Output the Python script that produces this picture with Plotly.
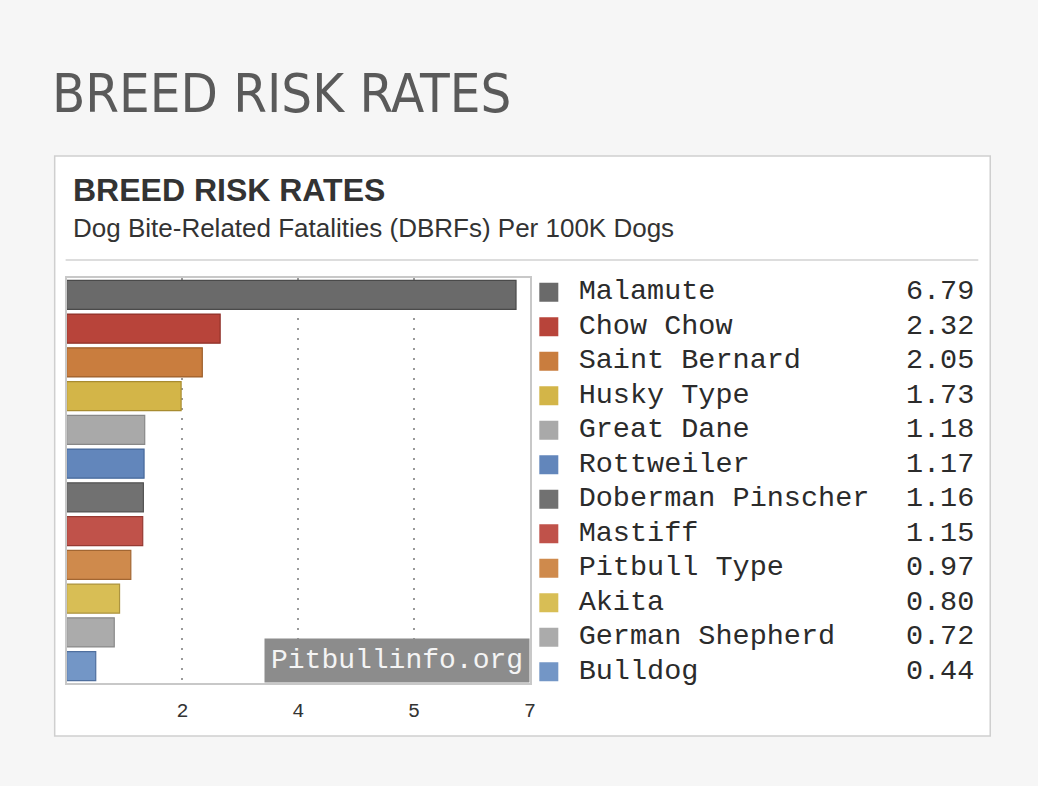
import plotly.graph_objects as go

# data
breeds = ['Malamute', 'Chow Chow', 'Saint Bernard', 'Husky Type', 'Great Dane', 'Rottweiler',
          'Doberman Pinscher', 'Mastiff', 'Pitbull Type', 'Akita', 'German Shepherd', 'Bulldog']
rates = [6.79, 2.32, 2.05, 1.73, 1.18, 1.17, 1.16, 1.15, 0.97, 0.80, 0.72, 0.44]
tick_vals = [1.75, 3.5, 5.25, 7]
tick_text = ['2', '4', '5', '7']

colors = ['#6a6a6a', '#b8443a', '#c97d3e', '#d3b548', '#a9a9a9', '#6286bb',
          '#717171', '#c0524a', '#cf8a4c', '#d8be55', '#ababab', '#7396c6']
edges = ['#4a4a4a', '#8e3029', '#9c5e2a', '#a88c30', '#888888', '#46689a',
         '#555555', '#963a33', '#a26632', '#ac9440', '#8a8a8a', '#4f6f9e']

W, H = 1038, 786
MONO = 'Liberation Mono, Courier New, monospace'


def px_x(v):
    return v / W


def px_y(v):
    return 1 - v / H


fig = go.Figure()

fig.add_trace(go.Bar(
    x=rates, y=breeds, orientation='h',
    marker=dict(color=colors, line=dict(color=edges, width=1.2)),
    showlegend=False, hoverinfo='x+y',
))

# legend column: swatch, name, value
fig.add_trace(go.Scatter(
    x=[12] * len(breeds), y=breeds, mode='markers',
    marker=dict(symbol='square', size=19, color=colors),
    xaxis='x2', yaxis='y2', showlegend=False, hoverinfo='skip',
))
fig.add_trace(go.Scatter(
    x=[42] * len(breeds), y=breeds, mode='text',
    text=breeds, textposition='middle right',
    textfont=dict(family=MONO, size=28.5, color='#2b2b2b'),
    xaxis='x2', yaxis='y2', showlegend=False, hoverinfo='skip',
))
fig.add_trace(go.Scatter(
    x=[440] * len(breeds), y=breeds, mode='text',
    text=['%.2f' % r for r in rates], textposition='middle left',
    textfont=dict(family=MONO, size=28.5, color='#2b2b2b'),
    xaxis='x2', yaxis='y2', showlegend=False, hoverinfo='skip',
))

fig.update_layout(
    width=W, height=H, autosize=False,
    margin=dict(l=0, r=0, t=0, b=0),
    paper_bgcolor='#f6f6f6',
    plot_bgcolor='white',
    bargap=0.14,
    xaxis=dict(
        domain=[px_x(67), px_x(533)], range=[0, 7],
        tickvals=tick_vals, ticktext=tick_text,
        ticks='outside', ticklen=8, tickcolor='rgba(0,0,0,0)',
        tickfont=dict(family=MONO, size=20, color='#333333'),
        showgrid=True, gridcolor='#9a9a9a', griddash='2px,8px', gridwidth=2,
        showline=True, linecolor='#c8c8c8', linewidth=1.5, mirror=True,
        zeroline=False, fixedrange=True,
    ),
    yaxis=dict(
        domain=[px_y(683), px_y(278)],
        categoryorder='array', categoryarray=breeds, range=[11.5, -0.5],
        showticklabels=False, ticks='',
        showline=True, linecolor='#c8c8c8', linewidth=1.5, mirror=True,
        showgrid=False, fixedrange=True,
    ),
    xaxis2=dict(
        domain=[px_x(540), px_x(980)], range=[0, 440], anchor='y2',
        visible=False, fixedrange=True,
    ),
    yaxis2=dict(
        domain=[px_y(689), px_y(275)], anchor='x2',
        categoryorder='array', categoryarray=breeds, range=[11.5, -0.5],
        visible=False, fixedrange=True,
    ),
    shapes=[
        # white card behind the chart
        dict(type='rect', xref='paper', yref='paper', layer='below',
             x0=px_x(55), x1=px_x(996), y0=px_y(736), y1=px_y(156),
             fillcolor='white', line=dict(color='#cfcfcf', width=1.5)),
        # rule under the subtitle
        dict(type='line', xref='paper', yref='paper',
             x0=px_x(66), x1=px_x(984), y0=px_y(260), y1=px_y(260),
             line=dict(color='#d2d2d2', width=1.5)),
    ],
    annotations=[
        dict(text='BREED RISK RATES', xref='paper', yref='paper',
             x=px_x(50), y=px_y(93), xanchor='left', yanchor='middle', showarrow=False,
             font=dict(family='Liberation Sans Narrow, DejaVu Sans Condensed, sans-serif',
                       size=54, color='#5a5a5a')),
        dict(text='<b>BREED RISK RATES</b>', xref='paper', yref='paper',
             x=px_x(71), y=px_y(190), xanchor='left', yanchor='middle', showarrow=False,
             font=dict(family='Liberation Sans, Arial, sans-serif', size=32, color='#333333')),
        dict(text='Dog Bite-Related Fatalities (DBRFs) Per 100K Dogs', xref='paper', yref='paper',
             x=px_x(71), y=px_y(228), xanchor='left', yanchor='middle', showarrow=False,
             font=dict(family='Liberation Sans, Arial, sans-serif', size=26, color='#333333')),
        dict(text='Pitbullinfo.org', xref='x domain', yref='y domain',
             x=1, y=0, xanchor='right', yanchor='bottom', showarrow=False,
             bgcolor='#8c8c8c', borderpad=6,
             font=dict(family=MONO, size=28, color='#f4f4f4')),
    ],
)

fig.write_html("out.html", config={'displayModeBar': False},
               post_script="document.body.style.margin='0';document.body.style.background='#f6f6f6';")
